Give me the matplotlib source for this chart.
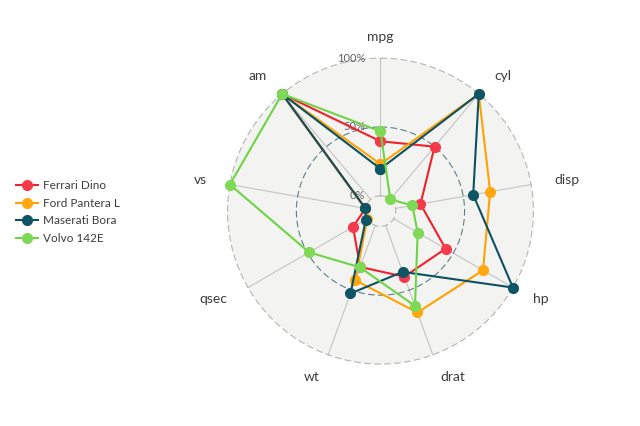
import numpy as np
import matplotlib
matplotlib.use('Agg')
import matplotlib.pyplot as plt
from matplotlib.transforms import offset_copy

plt.rcParams['font.family'] = ['Lato', 'DejaVu Sans']

# mtcars rows, each variable rescaled to 0..1
variables = ['mpg', 'cyl', 'disp', 'hp', 'drat', 'wt', 'qsec', 'vs', 'am']
cars = ['Ferrari Dino', 'Ford Pantera L', 'Maserati Bora', 'Volvo 142E']
ferrari = [0.396, 0.5, 0.184, 0.435, 0.396, 0.321, 0.119, 0.0, 1.0]
pantera = [0.230, 1.0, 0.698, 0.749, 0.673, 0.424, 0.0, 0.0, 1.0]
bora = [0.196, 1.0, 0.573, 1.0, 0.359, 0.526, 0.012, 0.0, 1.0]
volvo = [0.468, 0.0, 0.124, 0.201, 0.622, 0.324, 0.488, 1.0, 1.0]
grid_values = [0.0, 0.5, 1.0]
grid_labels = ['0%', '50%', '100%']

line_colors = ['#F0212C', '#FFA200', '#0B5163', '#6DD446']
marker_colors = ['#F53B4B', '#FFA80F', '#0E5566', '#7ED957']
series = [ferrari, pantera, bora, volvo]

fig = plt.figure(figsize=(6.4, 4.26), dpi=100)
ax = fig.add_axes([0.3555, 0.1455, 0.478, 0.718], projection='polar')
ax.set_theta_zero_location('N')
ax.set_theta_direction(-1)
ax.set_ylim(-1 / 9, 1)   # centre sits a bit below 0%
ax.set_facecolor('#F3F3F1')
for sp in ax.spines.values():
    sp.set_visible(False)
ax.grid(False)
ax.set_xticks([])
ax.set_yticks([])

n = len(variables)
angles = np.arange(n) * 2 * np.pi / n
full = np.linspace(0, 2 * np.pi, 361)

# spokes
for a in angles:
    ax.plot([a, a], [0, 1], color='#C4C4C4', lw=0.8, zorder=1, clip_on=False)

# grid circles
grid_cols = ['#B5B5B5', '#5E7F8A', '#B5B5B5']
for g, c in zip(grid_values, grid_cols):
    ax.plot(full, np.full_like(full, g), color=c, lw=0.8,
            linestyle=(0, (6, 3)), zorder=1, clip_on=False)

# grid labels
lab_tr = offset_copy(ax.transData, fig=fig, x=-15.5, y=0, units='dots')
for g, t in zip(grid_values, grid_labels):
    ax.text(0, g, t, transform=lab_tr, ha='right', va='center',
            fontsize=8, color='#606060', zorder=2)

# axis labels
for a, name in zip(angles, variables):
    s = np.sin(a)
    if abs(s) < 1e-6:
        ha = 'center'
    elif s > 0:
        ha = 'left'
    else:
        ha = 'right'
    r = 1.155 if ha == 'center' else 1.171
    ax.text(a, r, name, ha=ha, va='center', fontsize=10, color='#3C3C3C')

# series
ang_closed = np.append(angles, angles[0])
for name, vals, lc, mc in zip(cars, series, line_colors, marker_colors):
    v = np.append(vals, vals[0])
    ax.plot(ang_closed, v, color=lc, lw=1.5, zorder=3, label=name,
            marker='o', markersize=7, markerfacecolor=mc, markeredgecolor=mc,
            clip_on=False)

fig.legend(loc='center left', bbox_to_anchor=(0.009, 0.502), frameon=False,
           fontsize=8.5, handlelength=1.8, handletextpad=0.45,
           labelspacing=0.55, labelcolor='#3C3C3C')

fig.savefig('out.png', dpi=100)
